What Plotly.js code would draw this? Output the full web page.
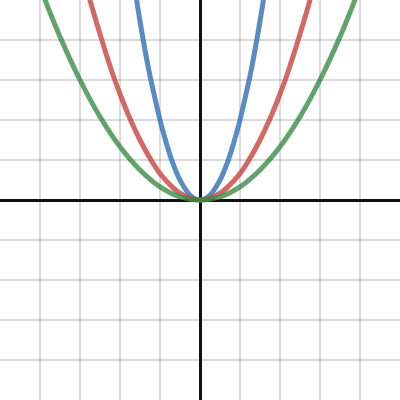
<!DOCTYPE html>
<html>
<head>
<meta charset="utf-8">
<script src="https://cdn.plot.ly/plotly-3.0.1.min.js"></script>
<style>
  html, body { margin: 0; padding: 0; background: #fff; }
  #plot { width: 400px; height: 400px; }
</style>
</head>
<body>
<div id="plot"></div>
<script>
// points, one grid square = 1 unit
var blueX = [-1.7, -1.6, -1.42, -1.25, -1.15, -1.0, -0.85, -0.7, -0.5, -0.25, 0, 0.25, 0.5, 0.7, 0.85, 1.0, 1.15, 1.25, 1.42, 1.6, 1.7];
var blueY = [5.8, 5.1, 4.0, 3.1, 2.65, 2.0, 1.45, 0.98, 0.5, 0.125, 0, 0.125, 0.5, 0.98, 1.45, 2.0, 2.65, 3.1, 4.0, 5.1, 5.8];

var redX = [-2.9, -2.75, -2.5, -2.2, -2.0, -1.8, -1.5, -1.2, -1.0, -0.5, 0, 0.5, 1.0, 1.2, 1.5, 1.8, 2.0, 2.2, 2.5, 2.75, 2.9];
var redY = [5.6, 5.0, 4.15, 3.2, 2.65, 2.15, 1.5, 0.96, 0.66, 0.17, 0, 0.17, 0.66, 0.96, 1.5, 2.15, 2.65, 3.2, 4.15, 5.0, 5.6];

var greenX = [-4.1, -3.9, -3.5, -3.0, -2.5, -2.0, -1.5, -1.0, -0.5, 0, 0.5, 1.0, 1.5, 2.0, 2.5, 3.0, 3.5, 3.9, 4.1];
var greenY = [5.6, 5.07, 4.08, 3.0, 2.08, 1.33, 0.75, 0.33, 0.08, 0, 0.08, 0.33, 0.75, 1.33, 2.08, 3.0, 4.08, 5.07, 5.6];

function curve(x, y, color) {
    return {
        x: x,
        y: y,
        type: 'scatter',
        mode: 'lines',
        line: { color: color, width: 5, shape: 'spline', smoothing: 1 },
        hoverinfo: 'skip'
    };
}

var traces = [
    curve(blueX, blueY, 'rgba(45,112,179,0.8)'),
    curve(redX, redY, 'rgba(199,68,64,0.8)'),
    curve(greenX, greenY, 'rgba(56,140,70,0.8)')
];

var axis = {
    range: [-5, 5],
    dtick: 1,
    showticklabels: false,
    ticks: '',
    showgrid: true,
    gridcolor: 'rgba(0,0,0,0.14)',
    gridwidth: 1.4,
    zeroline: true,
    zerolinecolor: '#111111',
    zerolinewidth: 3,
    showline: false,
    fixedrange: true
};

var layout = {
    width: 400,
    height: 400,
    margin: { l: 0, r: 0, t: 0, b: 0 },
    showlegend: false,
    paper_bgcolor: '#ffffff',
    plot_bgcolor: '#ffffff',
    xaxis: axis,
    yaxis: Object.assign({}, axis)
};

Plotly.newPlot('plot', traces, layout, { staticPlot: true, displayModeBar: false });
</script>
</body>
</html>
